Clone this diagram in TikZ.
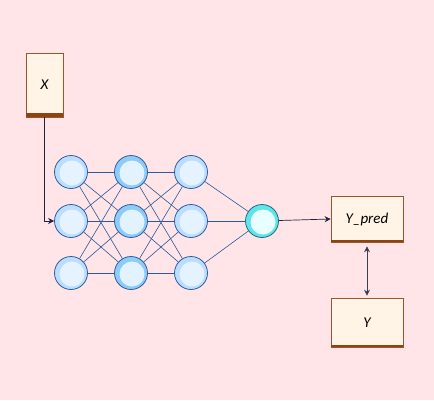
\documentclass[tikz,border=0pt]{standalone}
\usepackage{fontspec}
\setmainfont{Carlito}
\usetikzlibrary{arrows.meta}
\definecolor{bgpink}{HTML}{FFE4E8}
\definecolor{boxfill}{HTML}{FFF4E6}
\definecolor{boxline}{HTML}{A0522D}
\definecolor{barbrown}{HTML}{8B4513}
\definecolor{nline}{HTML}{2E5E9E}
\definecolor{ringA}{HTML}{BBDDFF}
\definecolor{innerA}{HTML}{E4F3FF}
\definecolor{ringB}{HTML}{8CCBFA}
\definecolor{innerB}{HTML}{E2F2FF}
\definecolor{ringO}{HTML}{5CE6EA}
\definecolor{innerO}{HTML}{E8FFFF}
\definecolor{oline}{HTML}{2A6878}
\definecolor{edgec}{HTML}{2A5A98}
\definecolor{arrowc}{HTML}{1A2440}
\tikzset{
  neuronbase/.style={circle, minimum size=33pt, inner sep=0pt, line width=0.8pt},
  neuronA/.style={neuronbase, draw=nline, fill=ringA,
    path picture={\fill[innerA] ([shift={(1pt,-1pt)}]path picture bounding box.center) circle (12.5pt);}},
  neuronB/.style={neuronbase, draw=nline, fill=ringB,
    path picture={\fill[innerB] ([shift={(1pt,-1pt)}]path picture bounding box.center) circle (12.5pt);}},
  neuronO/.style={neuronbase, draw=oline, fill=ringO,
    path picture={\fill[innerO] ([shift={(1pt,-1pt)}]path picture bounding box.center) circle (12.5pt);}},
  databox/.style={draw=boxline, fill=boxfill, line width=0.7pt, inner sep=0pt, font=\itshape\fontsize{15}{17}\selectfont},
  edge/.style={draw=edgec, line width=0.6pt},
  conn/.style={draw=arrowc, line width=0.7pt, -{Stealth[length=6pt,width=6pt]}},
  dconn/.style={draw=arrowc!70!gray, line width=0.8pt, {Stealth[length=6pt,width=6pt,fill=arrowc]}-{Stealth[length=6pt,width=6pt,fill=arrowc]}},
}
\begin{document}
\begin{tikzpicture}[x=1pt,y=-1pt]
\fill[bgpink] (0,0) rectangle (434,400);
\useasboundingbox (0,0) rectangle (434,400);
% boxes
\node[databox, minimum width=37pt, minimum height=64pt] (X) at (44.5,85) {X};
\fill[barbrown] (X.south west) rectangle ([yshift=4.5pt]X.south east);
\node[databox, minimum width=72pt, minimum height=46pt] (Yp) at (367,219) {Y\_pred};
\fill[barbrown] (Yp.south west) rectangle ([yshift=2pt]Yp.south east);
\node[databox, minimum width=72pt, minimum height=49pt] (Y) at (367,322.5) {Y};
\fill[barbrown] (Y.south west) rectangle ([yshift=2pt]Y.south east);
% neurons
\foreach \i/\y in {1/172,2/221,3/273}{
  \node[neuronA] (a\i) at (71,\y) {};
  \node[neuronB] (b\i) at (131,\y) {};
  \node[neuronA] (c\i) at (191,\y) {};
}
\node[neuronO] (o) at (262,221) {};
% edges
\foreach \i in {1,2,3}{
  \foreach \j in {1,2,3}{
    \draw[edge] (a\i) -- (b\j);
    \draw[edge] (b\i) -- (c\j);
  }
  \draw[edge] (c\i) -- (o);
}
% arrows
\draw[conn] (X.south) |- (a2.west);
\draw[conn] (o) -- (Yp.west);
\draw[dconn] ([yshift=-4pt]Yp.south) -- ([yshift=2pt]Y.north);
\end{tikzpicture}
\end{document}
